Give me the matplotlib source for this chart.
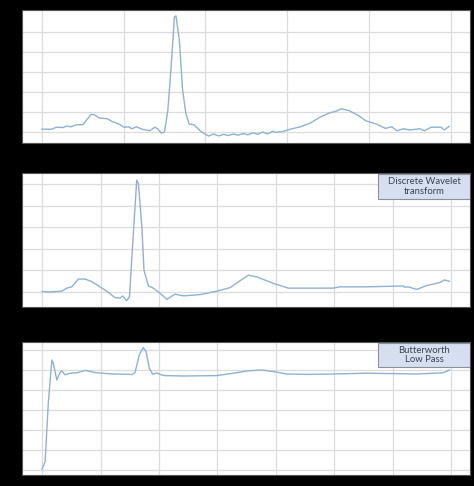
import matplotlib
matplotlib.use("Agg")
import matplotlib.pyplot as plt
from matplotlib.patches import Rectangle

# raw ECG (top panel)
raw_x = [0, 6, 9, 13, 15, 18, 21, 25, 30, 32, 35, 40, 43, 47, 50, 53, 55, 58, 61,
         66, 69, 71, 73, 75, 77, 79, 81, 82, 84, 86, 88, 90, 93, 97, 100, 102, 105,
         108, 111, 114, 117, 120, 123, 126, 129, 132, 135, 138, 141, 143, 147, 152,
         158, 164, 170, 176, 180, 183, 188, 194, 198, 205, 210, 214, 217, 221, 225,
         231, 234, 238, 244, 246, 249]
raw_y = [0.07, 0.07, 0.12, 0.11, 0.15, 0.13, 0.18, 0.18, 0.44, 0.43, 0.35, 0.33,
         0.26, 0.20, 0.12, 0.13, 0.08, 0.13, 0.07, 0.03, 0.12, 0.07, -0.03, 0.01,
         0.55, 1.63, 2.88, 2.90, 2.30, 1.05, 0.47, 0.20, 0.18, 0.02, -0.06, -0.10,
         -0.05, -0.10, -0.06, -0.09, -0.05, -0.08, -0.04, -0.07, -0.02, -0.06, 0.0,
         -0.05, 0.02, -0.01, 0.01, 0.07, 0.13, 0.22, 0.37, 0.48, 0.52, 0.58, 0.53,
         0.40, 0.28, 0.19, 0.09, 0.13, 0.03, 0.08, 0.05, 0.08, 0.03, 0.12, 0.12,
         0.05, 0.14]

# discrete wavelet transform (middle panel)
dwt_x = [0, 3.4, 8.4, 10.6, 12.7, 15.5, 18.4, 21.3, 24.8, 27.7, 31.2, 33.4, 34.5,
         36.2, 37.4, 38.8, 40.5, 41.2, 42.7, 43.6, 45.5, 47.6, 50.5, 53.4, 56.9,
         60.5, 67.6, 74.8, 80.4, 84.7, 88.3, 91.9, 99.0, 105.4, 117.5, 124.6, 127.5,
         138.9, 154.6, 155.3, 156.7, 160.3, 164.6, 170.3, 172.1, 174.3]
dwt_y = [0.01, 0.0, 0.02, 0.09, 0.12, 0.30, 0.30, 0.24, 0.12, 0.02, -0.13, -0.14,
         -0.09, -0.20, -0.11, 1.13, 2.59, 2.52, 1.51, 0.51, 0.14, 0.09, -0.03,
         -0.17, -0.05, -0.09, -0.06, 0.02, 0.10, 0.26, 0.39, 0.35, 0.20, 0.09, 0.09,
         0.09, 0.12, 0.12, 0.14, 0.11, 0.12, 0.06, 0.15, 0.22, 0.28, 0.25]

# butterworth low pass (bottom panel)
bw_x = [0, 1.3, 2.7, 4.2, 4.8, 6.3, 7.7, 8.4, 9.8, 12, 14.8, 18.4, 23.4, 30.5,
        38.4, 39.8, 41.6, 43.3, 44.5, 45.9, 47.4, 49.1, 50.8, 52.6, 60.5, 74.8,
        81.9, 88.3, 94, 99, 104.7, 113.3, 124.6, 138.9, 160.3, 171.7, 174.3]
bw_y = [0.025, 0.21, 1.71, 2.75, 2.67, 2.25, 2.44, 2.48, 2.38, 2.42, 2.43, 2.49,
        2.43, 2.40, 2.39, 2.44, 2.88, 3.06, 2.96, 2.54, 2.39, 2.43, 2.38, 2.36,
        2.35, 2.36, 2.42, 2.48, 2.50, 2.46, 2.40, 2.39, 2.40, 2.42, 2.40, 2.43, 2.50]

line_col = "#8fb1d3"

fig = plt.figure(figsize=(4.74, 4.86), dpi=100, facecolor="black")


def style(ax, xt, yt, xl, yl):
    ax.set_facecolor("white")
    ax.set_xticks(xt)
    ax.set_yticks(yt)
    ax.set_xlim(xl)
    ax.set_ylim(yl)
    ax.grid(True, color="#dcdcdc", lw=0.9)
    ax.set_axisbelow(True)
    # tick labels are black on black in the original -> just hide them
    ax.tick_params(length=0, labelleft=False, labelbottom=False)
    for s in ax.spines.values():
        s.set_color("#555555")
        s.set_linewidth(0.8)


def label_box(ax, txt, y0, y1):
    ax.add_patch(Rectangle((0.795, y0), 0.205, y1 - y0, transform=ax.transAxes,
                           fc="#d5dff0", ec="#8a8f99", lw=0.8, zorder=5))
    ax.text(0.8975, (y0 + y1) / 2, txt, transform=ax.transAxes, ha="center",
            va="center", fontsize=6.8, color="#3c4256", family="Lato",
            linespacing=1.05, zorder=6)


ax1 = fig.add_axes([0.0464, 0.7058, 0.945, 0.2737])
ax1.plot(raw_x, raw_y, color=line_col, lw=1)
style(ax1, range(0, 251, 50), [0, 0.5, 1.0, 1.5, 2.0, 2.5], (-12.2, 261.7), (-0.275, 3.05))

ax2 = fig.add_axes([0.0464, 0.3683, 0.945, 0.2757])
ax2.plot(dwt_x, dwt_y, color=line_col, lw=1)
style(ax2, range(0, 176, 25), [0, 0.5, 1.0, 1.5, 2.0, 2.5], (-8.6, 183.1), (-0.347, 2.755))
label_box(ax2, "Discrete Wavelet\ntransform", 0.806, 0.993)

ax3 = fig.add_axes([0.0464, 0.0226, 0.945, 0.2737])
ax3.plot(bw_x, bw_y, color=line_col, lw=1)
style(ax3, range(0, 176, 25), [0, 0.5, 1.0, 1.5, 2.0, 2.5, 3.0], (-8.6, 183.1), (-0.125, 3.2))
label_box(ax3, "Butterworth\nLow Pass", 0.814, 0.995)

fig.savefig("out.png", dpi=100, facecolor="black")
